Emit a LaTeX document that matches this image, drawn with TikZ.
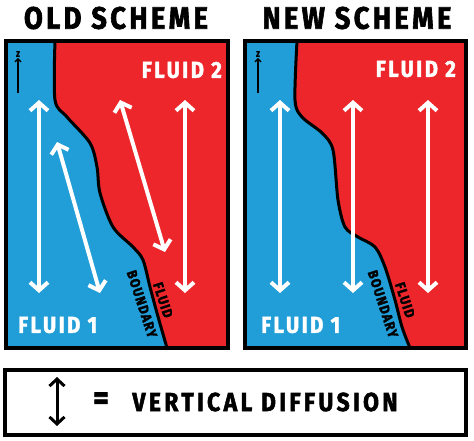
\documentclass[tikz,border=0pt]{standalone}
\usepackage{fontspec}
\newfontfamily\heavyfam{Fira Sans}[FakeStretch=0.88, BoldFeatures={FakeBold=2}]
\newcommand\heavy{\heavyfam\bfseries}
\usetikzlibrary{arrows.meta}
\definecolor{fluidblue}{RGB}{33,157,215}
\definecolor{fluidred}{RGB}{236,38,43}
\tikzset{
  panelbox/.style={draw=black, line width=4pt},
  bndline/.style={draw=black, line width=3pt},
  diffarrow/.style={white, line width=4pt, {Straight Barb[length=8pt,width=18pt]}-{Straight Barb[length=8pt,width=18pt]}},
  legarrow/.style={black, line width=3pt, {Straight Barb[length=7pt,width=15pt]}-{Straight Barb[length=7pt,width=15pt]}},
  zarrow/.style={black, line width=1.4pt, -{Straight Barb[length=3pt,width=6pt]}},
  title/.style={font=\heavy\addfontfeatures{LetterSpace=11}\fontsize{31}{31}\selectfont, inner sep=0pt},
  fluidtext/.style={font=\heavy\addfontfeatures{LetterSpace=11}\fontsize{23}{23}\selectfont, text=white, inner sep=0pt},
  bndtext/.style={font=\heavy\addfontfeatures{LetterSpace=8}\fontsize{14}{14}\selectfont, inner sep=0pt, rotate=-72},
  legtext/.style={font=\heavy\addfontfeatures{LetterSpace=13}\fontsize{26}{26}\selectfont, inner sep=0pt},
}
\begin{document}
\begin{tikzpicture}[x=1pt,y=-1pt]
  \useasboundingbox (0,0) rectangle (474,440);

  %Titles
  \node[title] (oldtitle) at (116,18) {OLD SCHEME};
  \node[title] (newtitle) at (357,18) {NEW SCHEME};

  % Old scheme panel
  \fill[fluidblue] (6,41) rectangle (228,348);
  \fill[fluidred] (228,41) -- plot[smooth] coordinates {(55,41) (55,100) (67,117) (90,143) (97,167) (100,193) (113,227) (133,247) (143,260) (150,287) (157,313) (167,348)} -- (228,348) -- cycle;
  \draw[bndline] plot[smooth] coordinates {(55,41) (55,100) (67,117) (90,143) (97,167) (100,193) (113,227) (133,247) (143,260) (150,287) (157,313) (167,348)};
  \draw[panelbox] (6,41) rectangle (228,348);

  % New scheme panel
  \fill[fluidblue] (245,41) rectangle (466,348);
  \fill[fluidred] (466,41) -- plot[smooth] coordinates {(297,41) (295,100) (302,117) (322,133) (333,150) (338,200) (345,227) (358,237) (375,247) (385,267) (395,300) (402,327) (410,348)} -- (466,348) -- cycle;
  \draw[bndline] plot[smooth] coordinates {(297,41) (295,100) (302,117) (322,133) (333,150) (338,200) (345,227) (358,237) (375,247) (385,267) (395,300) (402,327) (410,348)};
  \draw[panelbox] (245,41) rectangle (466,348);

  %Define nodes
  \node[font=\heavy\fontsize{8}{8}\selectfont, inner sep=0pt] (zold) at (18,54) {Z};
  \node[font=\heavy\fontsize{8}{8}\selectfont, inner sep=0pt] (znew) at (258,54) {Z};
  \coordinate (zold0) at (18,93);
  \coordinate (znew0) at (258,93);

  \node[fluidtext, anchor=east] (f2old) at (222,70) {FLUID 2};
  \node[fluidtext, anchor=west] (f1old) at (18,325) {FLUID 1};
  \node[fluidtext, anchor=east] (f2new) at (456,69) {FLUID 2};
  \node[fluidtext, anchor=west] (f1new) at (261,325) {FLUID 1};

  \node[bndtext] (bold) at (142,304) {BOUNDARY};
  \node[bndtext] (fold) at (163,300) {FLUID};
  \node[bndtext] (bnew) at (383,304) {BOUNDARY};
  \node[bndtext] (fnew) at (405,300) {FLUID};

  \coordinate (a1t) at (39,100);  \coordinate (a1b) at (39,293);
  \coordinate (a2t) at (57,142);  \coordinate (a2b) at (100,293);
  \coordinate (a3t) at (120,100); \coordinate (a3b) at (165,252);
  \coordinate (a4t) at (185,100); \coordinate (a4b) at (185,293);
  \coordinate (b1t) at (280,100); \coordinate (b1b) at (280,293);
  \coordinate (b2t) at (353,100); \coordinate (b2b) at (353,293);
  \coordinate (b3t) at (428,100); \coordinate (b3b) at (428,293);

  % Connect the nodes
  \draw[zarrow] (zold0) -- ([yshift=-1pt]zold.south);
  \draw[zarrow] (znew0) -- ([yshift=-1pt]znew.south);
  \draw[diffarrow] (a1t) -- (a1b);
  \draw[diffarrow] (a2t) -- (a2b);
  \draw[diffarrow] (a3t) -- (a3b);
  \draw[diffarrow] (a4t) -- (a4b);
  \draw[diffarrow] (b1t) -- (b1b);
  \draw[diffarrow] (b2t) -- (b2b);
  \draw[diffarrow] (b3t) -- (b3b);

  % Legend
  \draw[panelbox] (5,370) rectangle (466,435);
  \coordinate (legt) at (57,377);
  \coordinate (legb) at (57,426);
  \draw[legarrow] (legt) -- (legb);
  \node[legtext, font=\heavy\fontsize{34}{34}\selectfont] (legeq) at (101,401) {=};
  \node[legtext] (legdesc) at (265,402) {VERTICAL DIFFUSION};

\end{tikzpicture}
\end{document}
